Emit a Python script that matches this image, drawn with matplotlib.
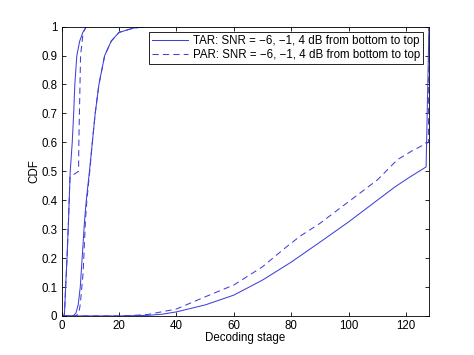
import matplotlib
matplotlib.use("Agg")
import matplotlib.pyplot as plt

plt.rcParams['font.family'] = ['Liberation Sans', 'DejaVu Sans']

# TAR curves (solid), SNR = -6, -1, 4 dB
tar_x_lo = [0, 20, 25, 30, 35, 40, 50, 60, 70, 80, 90, 100, 110, 116, 121, 127, 128]
tar_y_lo = [0, 0, 0.001, 0.002, 0.006, 0.014, 0.038, 0.072, 0.124, 0.186, 0.255, 0.325, 0.40, 0.445, 0.478, 0.515, 1.0]
tar_x_mid = [0, 4, 5, 5.8, 6.5, 8.0, 8.6, 9.7, 10.7, 11.7, 13.0, 15.0, 17.3, 20, 25, 30, 128]
tar_y_mid = [0, 0, 0.01, 0.04, 0.10, 0.33, 0.40, 0.50, 0.60, 0.70, 0.80, 0.90, 0.95, 0.98, 0.995, 1.0, 1.0]
tar_x_hi = [0, 0.8, 1.0, 1.4, 1.9, 2.4, 3.0, 3.7, 4.2, 4.6, 5.3, 6.3, 7.4, 8.6, 128]
tar_y_hi = [0, 0, 0.01, 0.10, 0.205, 0.33, 0.50, 0.60, 0.70, 0.80, 0.90, 0.95, 0.98, 1.0, 1.0]

# PAR curves (dashed)
par_x_lo = [0, 20, 25, 30, 40, 50, 60, 70, 77, 83, 90, 100, 110, 117, 122, 127.8, 128]
par_y_lo = [0, 0, 0.002, 0.005, 0.024, 0.066, 0.107, 0.17, 0.228, 0.275, 0.32, 0.395, 0.47, 0.54, 0.57, 0.60, 1.0]
par_x_mid = [0, 5, 6, 6.5, 7.5, 8.3, 8.8, 9.8, 10.7, 11.7, 13.0, 15.0, 17.3, 20, 25, 30, 128]
par_y_mid = [0, 0, 0.01, 0.04, 0.15, 0.33, 0.40, 0.50, 0.60, 0.70, 0.80, 0.90, 0.95, 0.98, 0.995, 1.0, 1.0]
par_x_hi = [0, 0.8, 1.0, 1.4, 1.9, 2.4, 2.9, 5.9, 6.0, 6.6, 7.5, 8.6, 128]
par_y_hi = [0, 0, 0.01, 0.10, 0.205, 0.33, 0.48, 0.50, 0.60, 0.90, 0.98, 1.0, 1.0]

blue = '#4040dc'
dash = (0, (6, 4))

fig = plt.figure(figsize=(4.74, 3.55), dpi=100)
ax = fig.add_axes([0.13, 0.11, 0.775, 0.815])

ax.plot(tar_x_lo, tar_y_lo, color=blue, lw=0.75,
        label='TAR: SNR = \u22126, \u22121, 4 dB from bottom to top')
ax.plot(par_x_lo, par_y_lo, color=blue, lw=0.75, ls=dash,
        label='PAR: SNR = \u22126, \u22121, 4 dB from bottom to top')
ax.plot(tar_x_mid, tar_y_mid, color=blue, lw=0.75)
ax.plot(par_x_mid, par_y_mid, color=blue, lw=0.75, ls=dash)
ax.plot(tar_x_hi, tar_y_hi, color=blue, lw=0.75)
ax.plot(par_x_hi, par_y_hi, color=blue, lw=0.75, ls=dash)

ax.set_xlim(0, 128)
ax.set_ylim(0, 1)
ax.set_xticks(range(0, 121, 20))
ax.set_yticks([i / 10 for i in range(11)])
ax.set_yticklabels(['0', '0.1', '0.2', '0.3', '0.4', '0.5', '0.6', '0.7', '0.8', '0.9', '1'])
ax.tick_params(direction='in', top=True, right=True, labelsize=8.3, length=3, width=0.6, pad=3)
for s in ax.spines.values():
    s.set_linewidth(0.6)

ax.set_xlabel('Decoding stage', fontsize=8.3, labelpad=0)
ax.set_ylabel('CDF', fontsize=8.3, labelpad=1)

leg = ax.legend(loc='upper right', fontsize=8.3, fancybox=False, framealpha=1,
                edgecolor='black', handlelength=3.2, borderpad=0.25,
                labelspacing=0.15, handletextpad=0.4, borderaxespad=0.5)
leg.get_frame().set_linewidth(0.6)

fig.savefig('out.png', dpi=100)
